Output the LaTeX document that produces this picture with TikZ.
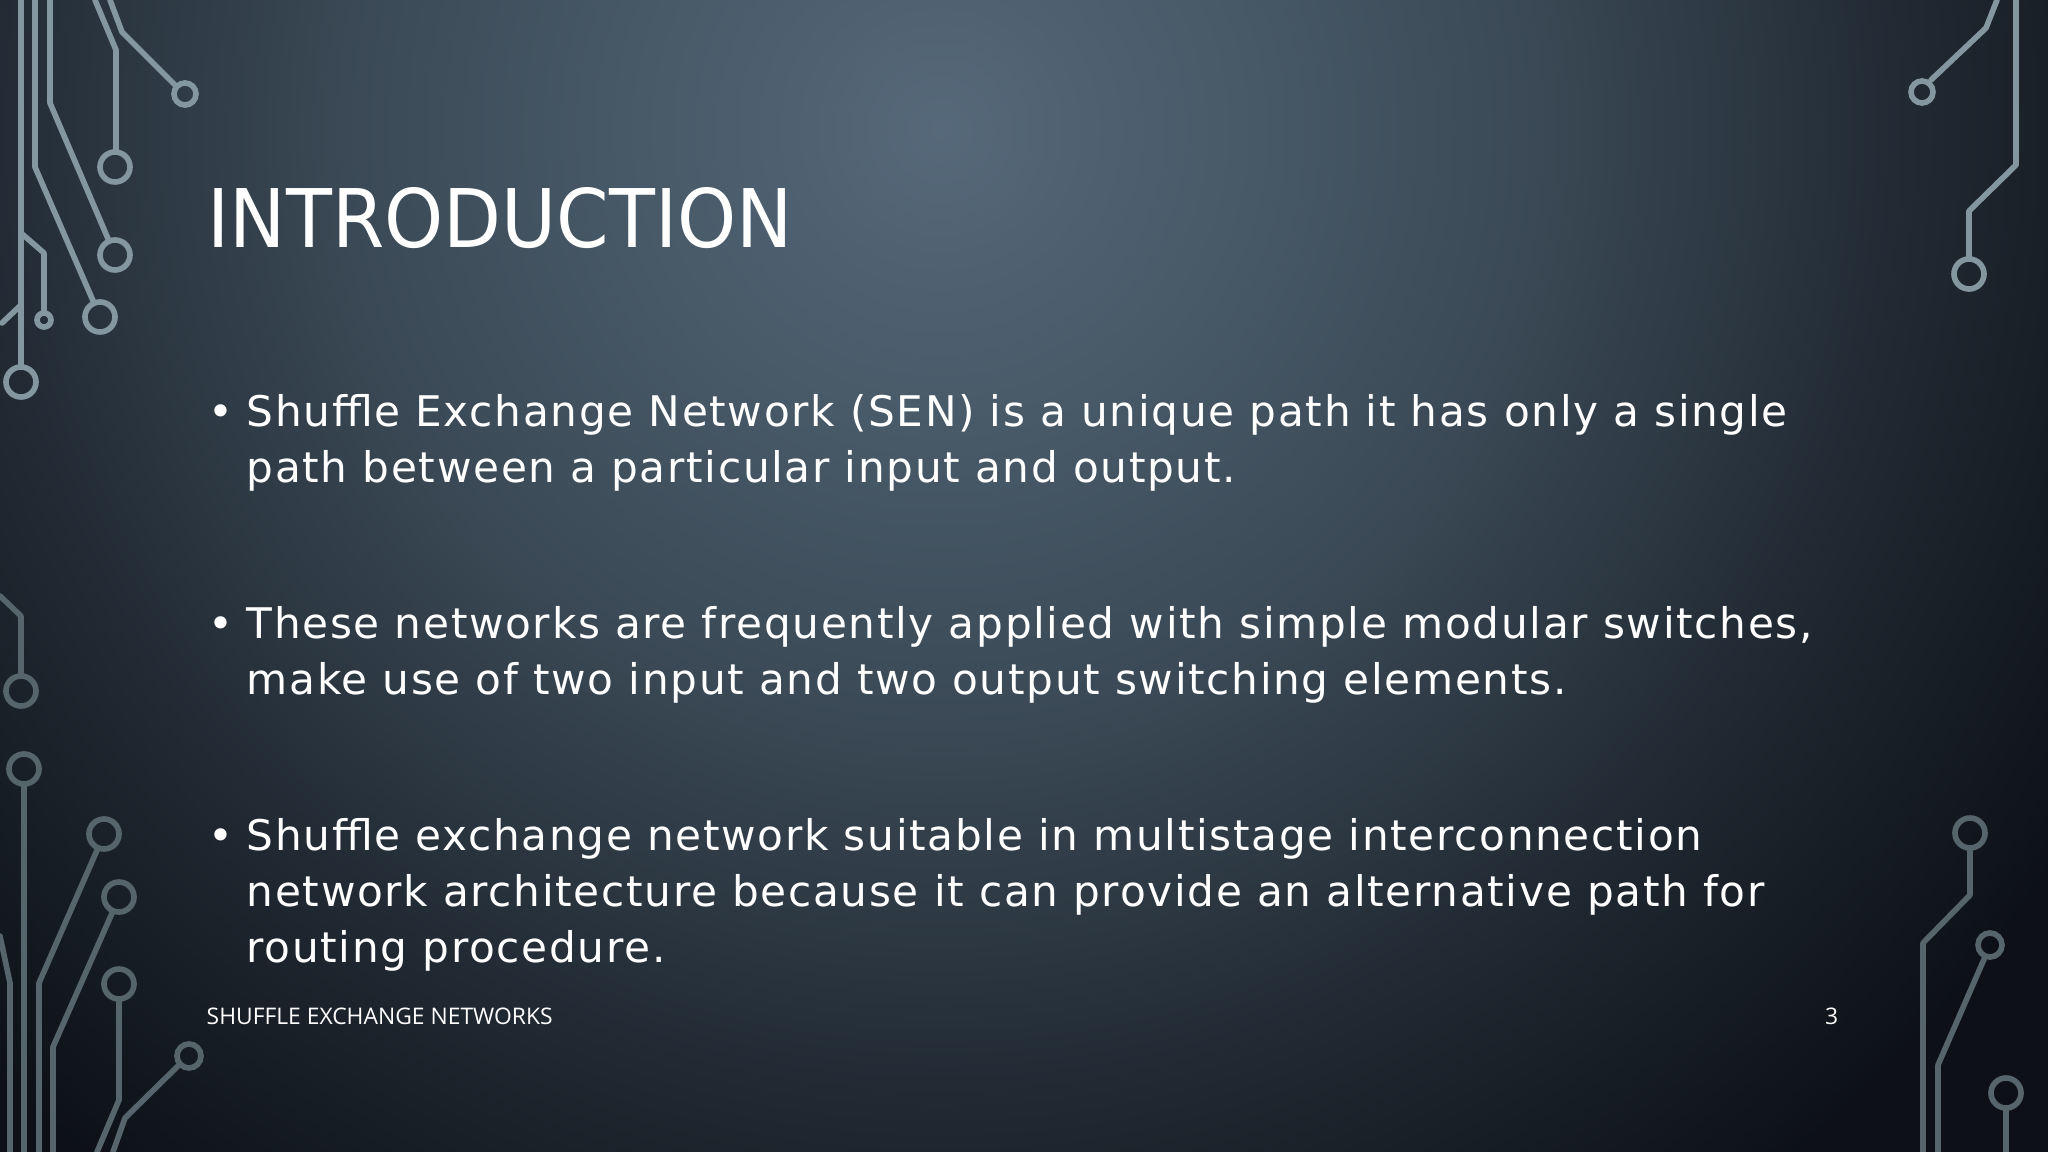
\documentclass[tikz,border=0pt]{standalone}
\usepackage{fontspec}
\setmainfont{DejaVu Sans}
\newfontfamily\bodyfont[LetterSpace=4]{DejaVu Sans}
\newfontfamily\titlefont[FakeStretch=0.93]{DejaVu Sans}
\newfontfamily\footfont{Open Sans}
\definecolor{bgA}{HTML}{56697A}
\definecolor{bgB}{HTML}{3A4955}
\definecolor{bgC}{HTML}{1E262F}
\definecolor{bgD}{HTML}{0D1117}
\definecolor{lnUp}{HTML}{8497A0}
\definecolor{lnLo}{HTML}{56656C}
\pgfdeclareradialshading{slidebg}{\pgfpoint{0bp}{0bp}}{color(0bp)=(bgA); color(6.5bp)=(bgB); color(11bp)=(bgC); color(14.5bp)=(bgD); color(50bp)=(bgD)}
\begin{document}
\begin{tikzpicture}[x=0.01cm,y=-0.01cm,
  trace/.style={line width=1.6pt,line cap=round,line join=round},
  pad/.style={line width=1.6pt},
  body/.style={anchor=base west,inner sep=0pt,font=\bodyfont\fontsize{12pt}{14pt}\selectfont,text=white},
  dot/.style={anchor=base west,inner sep=0pt,font=\fontsize{12pt}{14pt}\selectfont,text=white}]
\useasboundingbox (0,0) rectangle (2048,1152);
\begin{scope}
\clip (0,0) rectangle (2048,1152);
\fill[bgD] (0,0) rectangle (2048,1152);
\shade[shading=slidebg] (940,130) circle (2300);
\end{scope}
% upper-left traces
\begin{scope}[draw=lnUp]
\draw[trace] (21,0) -- (21,367); \draw[pad] (21,382) circle (15);
\draw[trace] (21,233) -- (44,253) -- (44,313); \draw[pad] (44,320) circle (7);
\draw[trace] (21,305) -- (2,323);
\draw[trace] (35,0) -- (35,167) -- (94,303); \draw[pad] (100,317) circle (15);
\draw[trace] (50,0) -- (50,103) -- (109,241); \draw[pad] (115,255) circle (15);
\draw[trace] (95,0) -- (116,50) -- (116,152); \draw[pad] (115,167) circle (15);
\draw[trace] (110,0) -- (122,32) -- (176,86); \draw[pad] (185,94) circle (11);
% upper-right
\draw[trace] (1997,0) -- (1986,28) -- (1931,80); \draw[pad] (1922,92) circle (11);
\draw[trace] (2016,0) -- (2016,165) -- (1969,211) -- (1969,259); \draw[pad] (1969,274) circle (15);
\end{scope}
% lower traces
\begin{scope}[draw=lnLo]
\draw[trace] (0,596) -- (21,616) -- (21,675); \draw[pad] (21,691) circle (15);
\draw[pad] (24,769) circle (15); \draw[trace] (24,784) -- (24,1152);
\draw[pad] (104,834) circle (15); \draw[trace] (98,848) -- (39,983) -- (39,1152);
\draw[pad] (119,897) circle (15); \draw[trace] (113,911) -- (53,1047) -- (53,1152);
\draw[pad] (119,984) circle (15); \draw[trace] (119,999) -- (119,1100) -- (97,1152);
\draw[pad] (189,1056) circle (12); \draw[trace] (180,1064) -- (125,1118) -- (113,1152);
\draw[trace] (0,936) -- (10,983) -- (10,1152);
\draw[pad] (1970,833) circle (15); \draw[trace] (1970,848) -- (1970,895) -- (1923,943) -- (1923,1152);
\draw[pad] (1990,945) circle (12); \draw[trace] (1985,957) -- (1938,1065) -- (1938,1152);
\draw[pad] (2006,1093) circle (15); \draw[trace] (2006,1108) -- (2006,1152);
\end{scope}
% title
\node[anchor=base west,inner sep=0pt,text=white,font=\titlefont\fontsize{23pt}{26pt}\selectfont] (title) at (207,248) {INTRODUCTION};
% bullets
\node[dot] (b1) at (208,427) {•};
\node[body] (t1a) at (246,427) {Shuffle Exchange Network (SEN) is a unique path it has only a single};
\node[body] (t1b) at (246,483) {path between a particular input and output.};
\node[dot] (b2) at (208,639) {•};
\node[body] (t2a) at (246,639) {These networks are frequently applied with simple modular switches,};
\node[body] (t2b) at (246,695) {make use of two input and two output switching elements.};
\node[dot] (b3) at (208,850) {•};
\node[body] (t3a) at (246,850) {Shuffle exchange network suitable in multistage interconnection};
\node[body] (t3b) at (246,906) {network architecture because it can provide an alternative path for};
\node[body] (t3c) at (246,962) {routing procedure.};
% footer
\node[anchor=base west,inner sep=0pt,text=white,font=\footfont\fontsize{6.5pt}{7.5pt}\selectfont] (foot) at (206,1024) {SHUFFLE EXCHANGE NETWORKS};
\node[anchor=base east,inner sep=0pt,text=white,font=\footfont\fontsize{6.5pt}{7.5pt}\selectfont] (num) at (1839,1024) {3};
\end{tikzpicture}
\end{document}
